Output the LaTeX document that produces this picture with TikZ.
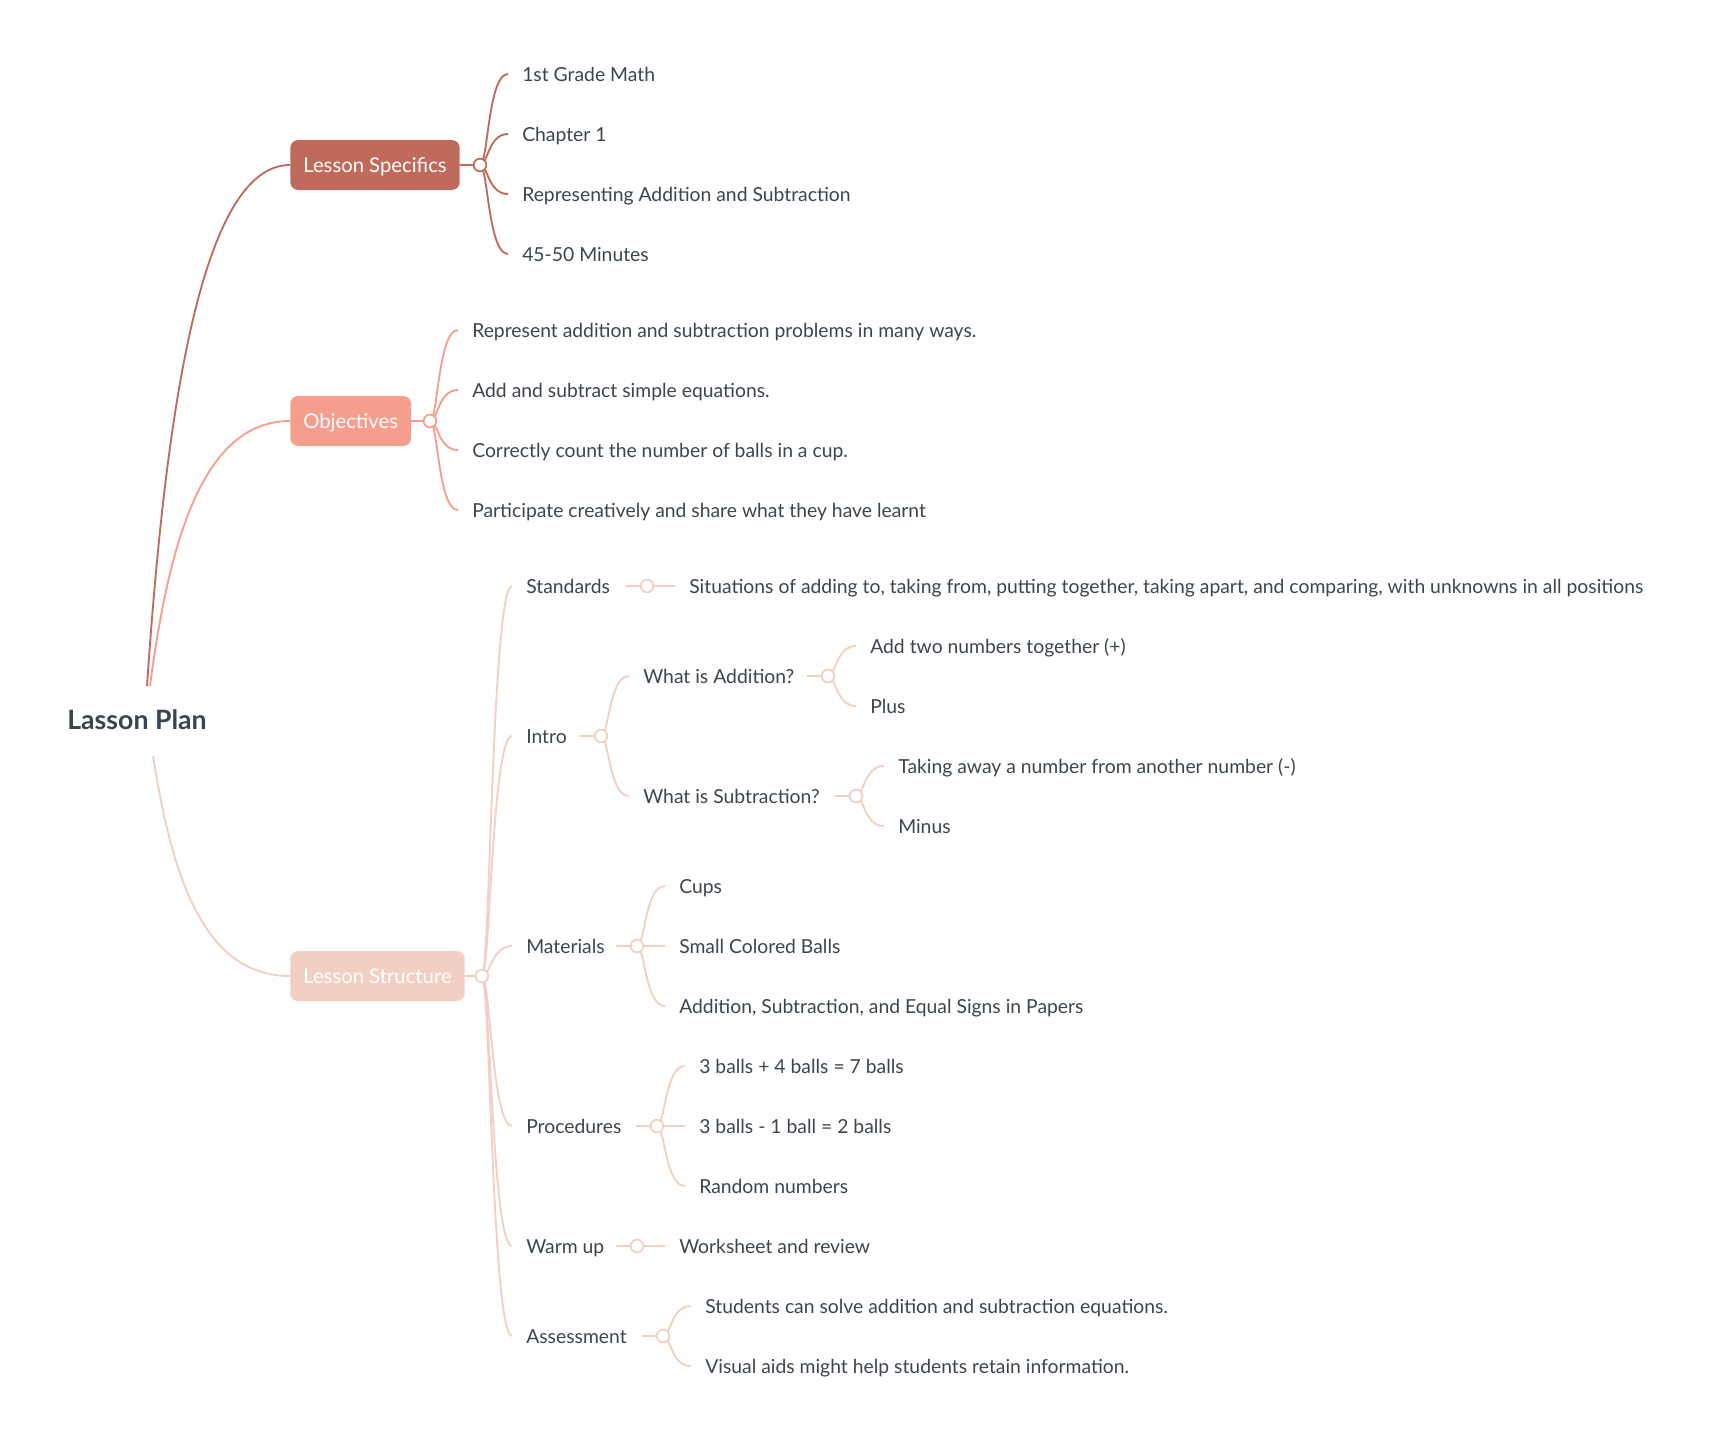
\documentclass[tikz,border=0pt]{standalone}
\usepackage{fontspec}
\setmainfont{Lato}
\usetikzlibrary{calc}
\definecolor{cspec}{RGB}{192,106,92}
\definecolor{cobj}{RGB}{246,158,141}
\definecolor{cstr}{RGB}{241,208,195}
\definecolor{txt}{RGB}{60,68,77}
\newcommand\mmbranch[3]{\draw[link,#1] (#2) .. controls +(8,0) and +(-20,0) .. ([xshift=-10.5pt,yshift=5.5pt]#3.base west);}
\begin{document}
\begin{tikzpicture}[x=0.75pt,y=-0.75pt,
  txtf/.style={font=\fontsize{14.5}{17}\selectfont},
  leaf/.style={anchor=base west, yshift=-5.5pt, inner sep=0pt, text=txt, txtf},
  topic/.style={anchor=west, rounded corners=6pt, minimum height=37.5pt, inner xsep=9.8pt, inner ysep=0pt, text height=12.5pt, text depth=1.6pt, text=white, font=\fontsize{15.2}{18}\selectfont},
  dot/.style={circle, draw, fill=white, line width=1.3pt, minimum size=9.5pt, inner sep=0pt},
  link/.style={line width=1.4pt},
]
\useasboundingbox (0,0) rectangle (1710,1442);

% root and main topics
\node[text=txt, font=\fontsize{20}{24}\selectfont\bfseries] (root) at (137,720) {Lasson Plan};
\node[topic, fill=cspec] (spec) at (290,165) {Lesson Specifics};
\node[topic, fill=cobj] (obj) at (290,421) {Objectives};
\node[topic, fill=cstr] (str) at (290,976) {Lesson Structure};

\coordinate (rtA) at (147,686);
\coordinate (rtB) at (150,686);
\coordinate (rtC) at (153,756);
\draw[link,cspec] (rtA) .. controls (165,420) and (200,165) .. (spec.west);
\draw[link,cobj] (rtB) .. controls (168,550) and (200,421) .. (obj.west);
\draw[link,cstr] (rtC) .. controls (171,868) and (200,976) .. (str.west);

% dot coordinates
\coordinate (dS) at (480,165);
\coordinate (dO) at (430,421);
\coordinate (dT) at (482,976);
\coordinate (dStd) at (647,586);
\coordinate (dI) at (601,736);
\coordinate (dAdd) at (828,676);
\coordinate (dSub) at (856,796);
\coordinate (dM) at (637,946);
\coordinate (dP) at (657,1126);
\coordinate (dW) at (637,1246);
\coordinate (dA) at (663,1336);

% Lesson Specifics
\node[leaf] (s1) at (522,74) {1st Grade Math};
\node[leaf] (s2) at (522,134) {Chapter 1};
\node[leaf] (s3) at (522,194) {Representing Addition and Subtraction};
\node[leaf] (s4) at (522,254) {45-50 Minutes};
\draw[link,cspec] (spec.east) -- (dS);
\mmbranch{cspec}{dS}{s1}
\mmbranch{cspec}{dS}{s2}
\mmbranch{cspec}{dS}{s3}
\mmbranch{cspec}{dS}{s4}

% Objectives
\node[leaf] (o1) at (472,330) {Represent addition and subtraction problems in many ways.};
\node[leaf] (o2) at (472,390) {Add and subtract simple equations.};
\node[leaf] (o3) at (472,450) {Correctly count the number of balls in a cup.};
\node[leaf] (o4) at (472,510) {Participate creatively and share what they have learnt};
\draw[link,cobj] (obj.east) -- (dO);
\mmbranch{cobj}{dO}{o1}
\mmbranch{cobj}{dO}{o2}
\mmbranch{cobj}{dO}{o3}
\mmbranch{cobj}{dO}{o4}

% Lesson Structure
\node[leaf] (std) at (526,586) {Standards};
\node[leaf] (intro) at (526,736) {Intro};
\node[leaf] (mat) at (526,946) {Materials};
\node[leaf] (proc) at (526,1126) {Procedures};
\node[leaf] (warm) at (526,1246) {Warm up};
\node[leaf] (ass) at (526,1336) {Assessment};
\draw[link,cstr] (str.east) -- (dT);
\mmbranch{cstr}{dT}{std}
\mmbranch{cstr}{dT}{intro}
\mmbranch{cstr}{dT}{mat}
\mmbranch{cstr}{dT}{proc}
\mmbranch{cstr}{dT}{warm}
\mmbranch{cstr}{dT}{ass}

% Standards
\node[leaf] (std1) at (689,586) {Situations of adding to, taking from, putting together, taking apart, and comparing, with unknowns in all positions};
\draw[link,cstr] (dStd) -- ++(-21,0);
\mmbranch{cstr}{dStd}{std1}

% Intro
\node[leaf] (add) at (643,676) {What is Addition?};
\node[leaf] (sub) at (643,796) {What is Subtraction?};
\draw[link,cstr] (dI) -- ++(-21,0);
\mmbranch{cstr}{dI}{add}
\mmbranch{cstr}{dI}{sub}
\node[leaf] (add1) at (870,646) {Add two numbers together (+)};
\node[leaf] (add2) at (870,706) {Plus};
\draw[link,cstr] (dAdd) -- ++(-21,0);
\mmbranch{cstr}{dAdd}{add1}
\mmbranch{cstr}{dAdd}{add2}
\node[leaf] (sub1) at (898,766) {Taking away a number from another number (-)};
\node[leaf] (sub2) at (898,826) {Minus};
\draw[link,cstr] (dSub) -- ++(-21,0);
\mmbranch{cstr}{dSub}{sub1}
\mmbranch{cstr}{dSub}{sub2}

% Materials
\node[leaf] (m1) at (679,886) {Cups};
\node[leaf] (m2) at (679,946) {Small Colored Balls};
\node[leaf] (m3) at (679,1006) {Addition, Subtraction, and Equal Signs in Papers};
\draw[link,cstr] (dM) -- ++(-21,0);
\mmbranch{cstr}{dM}{m1}
\mmbranch{cstr}{dM}{m2}
\mmbranch{cstr}{dM}{m3}

% Procedures
\node[leaf] (p1) at (699,1066) {3 balls + 4 balls = 7 balls};
\node[leaf] (p2) at (699,1126) {3 balls - 1 ball = 2 balls};
\node[leaf] (p3) at (699,1186) {Random numbers};
\draw[link,cstr] (dP) -- ++(-21,0);
\mmbranch{cstr}{dP}{p1}
\mmbranch{cstr}{dP}{p2}
\mmbranch{cstr}{dP}{p3}

% Warm up
\node[leaf] (w1) at (679,1246) {Worksheet and review};
\draw[link,cstr] (dW) -- ++(-21,0);
\mmbranch{cstr}{dW}{w1}

% Assessment
\node[leaf] (a1) at (705,1306) {Students can solve addition and subtraction equations.};
\node[leaf] (a2) at (705,1366) {Visual aids might help students retain information.};
\draw[link,cstr] (dA) -- ++(-21,0);
\mmbranch{cstr}{dA}{a1}
\mmbranch{cstr}{dA}{a2}

% dots on top
\node[dot, draw=cspec] (nS) at (dS) {};
\node[dot, draw=cobj] (nO) at (dO) {};
\node[dot, draw=cstr] (nT) at (dT) {};
\node[dot, draw=cstr] (nStd) at (dStd) {};
\node[dot, draw=cstr] (nI) at (dI) {};
\node[dot, draw=cstr] (nAdd) at (dAdd) {};
\node[dot, draw=cstr] (nSub) at (dSub) {};
\node[dot, draw=cstr] (nM) at (dM) {};
\node[dot, draw=cstr] (nP) at (dP) {};
\node[dot, draw=cstr] (nW) at (dW) {};
\node[dot, draw=cstr] (nA) at (dA) {};
\end{tikzpicture}
\end{document}
